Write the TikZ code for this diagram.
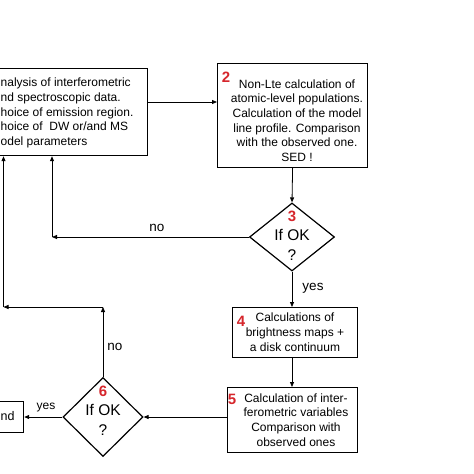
\documentclass[tikz,border=0pt]{standalone}
\usepackage{fontspec}
\setmainfont{Liberation Sans}
\usetikzlibrary{arrows.meta,shapes.geometric}
\definecolor{numred}{RGB}{214,38,44}
\begin{document}
\begin{tikzpicture}[x=1pt,y=-1pt,
 box/.style={draw,line width=1.2pt,fill=white,inner sep=0,anchor=north west},
 conn/.style={line width=0.8pt,-{Triangle[length=5pt,width=4pt]}},
 num/.style={text=numred,font=\fontsize{15}{15}\selectfont\bfseries,inner sep=0},
 txt/.style={font=\fontsize{12}{14.6}\selectfont,inner sep=0},
 dtxt/.style={font=\fontsize{15.5}{20}\selectfont,inner sep=0,align=center},
 lab/.style={font=\fontsize{13.5}{14}\selectfont,inner sep=0},
 dia/.style={draw,shape=diamond,line width=1.2pt,inner sep=0,fill=white}]
\useasboundingbox (0,0) rectangle (474,474);
\clip (0,0) rectangle (474,474);
% boxes
\node[box,minimum width=177,minimum height=87] (box1) at (-30,68) {};
\node[txt,anchor=west,align=left] (t1) at (0.5,113) {nalysis of interferometric\\nd spectroscopic data.\\hoice of emission region.\\hoice of\ \ DW or/and MS\\odel parameters};
\node[box,minimum width=150,minimum height=104] (box2) at (217,63) {};
\node[num] (n2) at (226,77) {2};
\node[txt,align=center] (t2) at (297,120.5) {Non-Lte calculation of\\atomic-level populations.\\Calculation of the model\\line profile. Comparison\\with the observed one.\\SED !};
\node[dia,minimum width=85,minimum height=68] (d3) at (292,237) {};
\node[num] (n3) at (292,216) {3};
\node[dtxt] (t3) at (292,245) {If OK\\?};
\node[box,minimum width=125,minimum height=50] (box4) at (232,307) {};
\node[num] (n4) at (241,321) {4};
\node[txt,align=center,font=\fontsize{12}{15}\selectfont] (t4) at (295,332) {Calculations of\\brightness maps +\\a disk continuum};
\node[box,minimum width=130,minimum height=65] (box5) at (227,387) {};
\node[num] (n5) at (232,399) {5};
\node[txt,align=center] (t5) at (296,420) {Calculation of inter-\\ferometric variables\\Comparison with\\observed ones};
\node[dia,minimum width=80,minimum height=79] (d6) at (103,417) {};
\node[num] (n6) at (103,391) {6};
\node[dtxt] (t6) at (103,420) {If OK\\?};
\node[box,minimum width=53,minimum height=31] (endb) at (-30,401) {};
\node[txt,anchor=west,font=\fontsize{12.5}{14}\selectfont] (te) at (0.5,416.5) {nd};
% coordinates
\coordinate (h1) at (0,102);
\coordinate (c1) at (52,237);
\coordinate (c2) at (103,307);
\coordinate (c3) at (3.5,307);
% connectors
\draw[conn] (box1.east |- h1) -- (box2.west |- h1);
\draw[conn] (box2.south) -- (d3.north);
\draw[conn] (d3.west) -- (c1);
\draw[conn] (c1) -- (box1.south -| c1);
\draw[conn] (d3.south) -- (d3.south |- box4.north);
\draw[conn] (d3.south |- box4.south) -- (d3.south |- box5.north);
\draw[conn] (box5.west |- d6.east) -- (d6.east);
\draw[conn] (d6.west) -- (endb.east |- d6.west);
\draw[conn] (d6.north) -- (c2);
\draw[conn] (c2) -- (c3);
\draw[conn] (c3) -- (box1.south -| c3);
% labels
\node[lab] (l1) at (157,228) {no};
\node[lab] (l2) at (313,288) {yes};
\node[lab] (l3) at (115,347) {no};
\node[lab,font=\fontsize{12}{13}\selectfont] (l4) at (46,408) {yes};
\end{tikzpicture}
\end{document}
